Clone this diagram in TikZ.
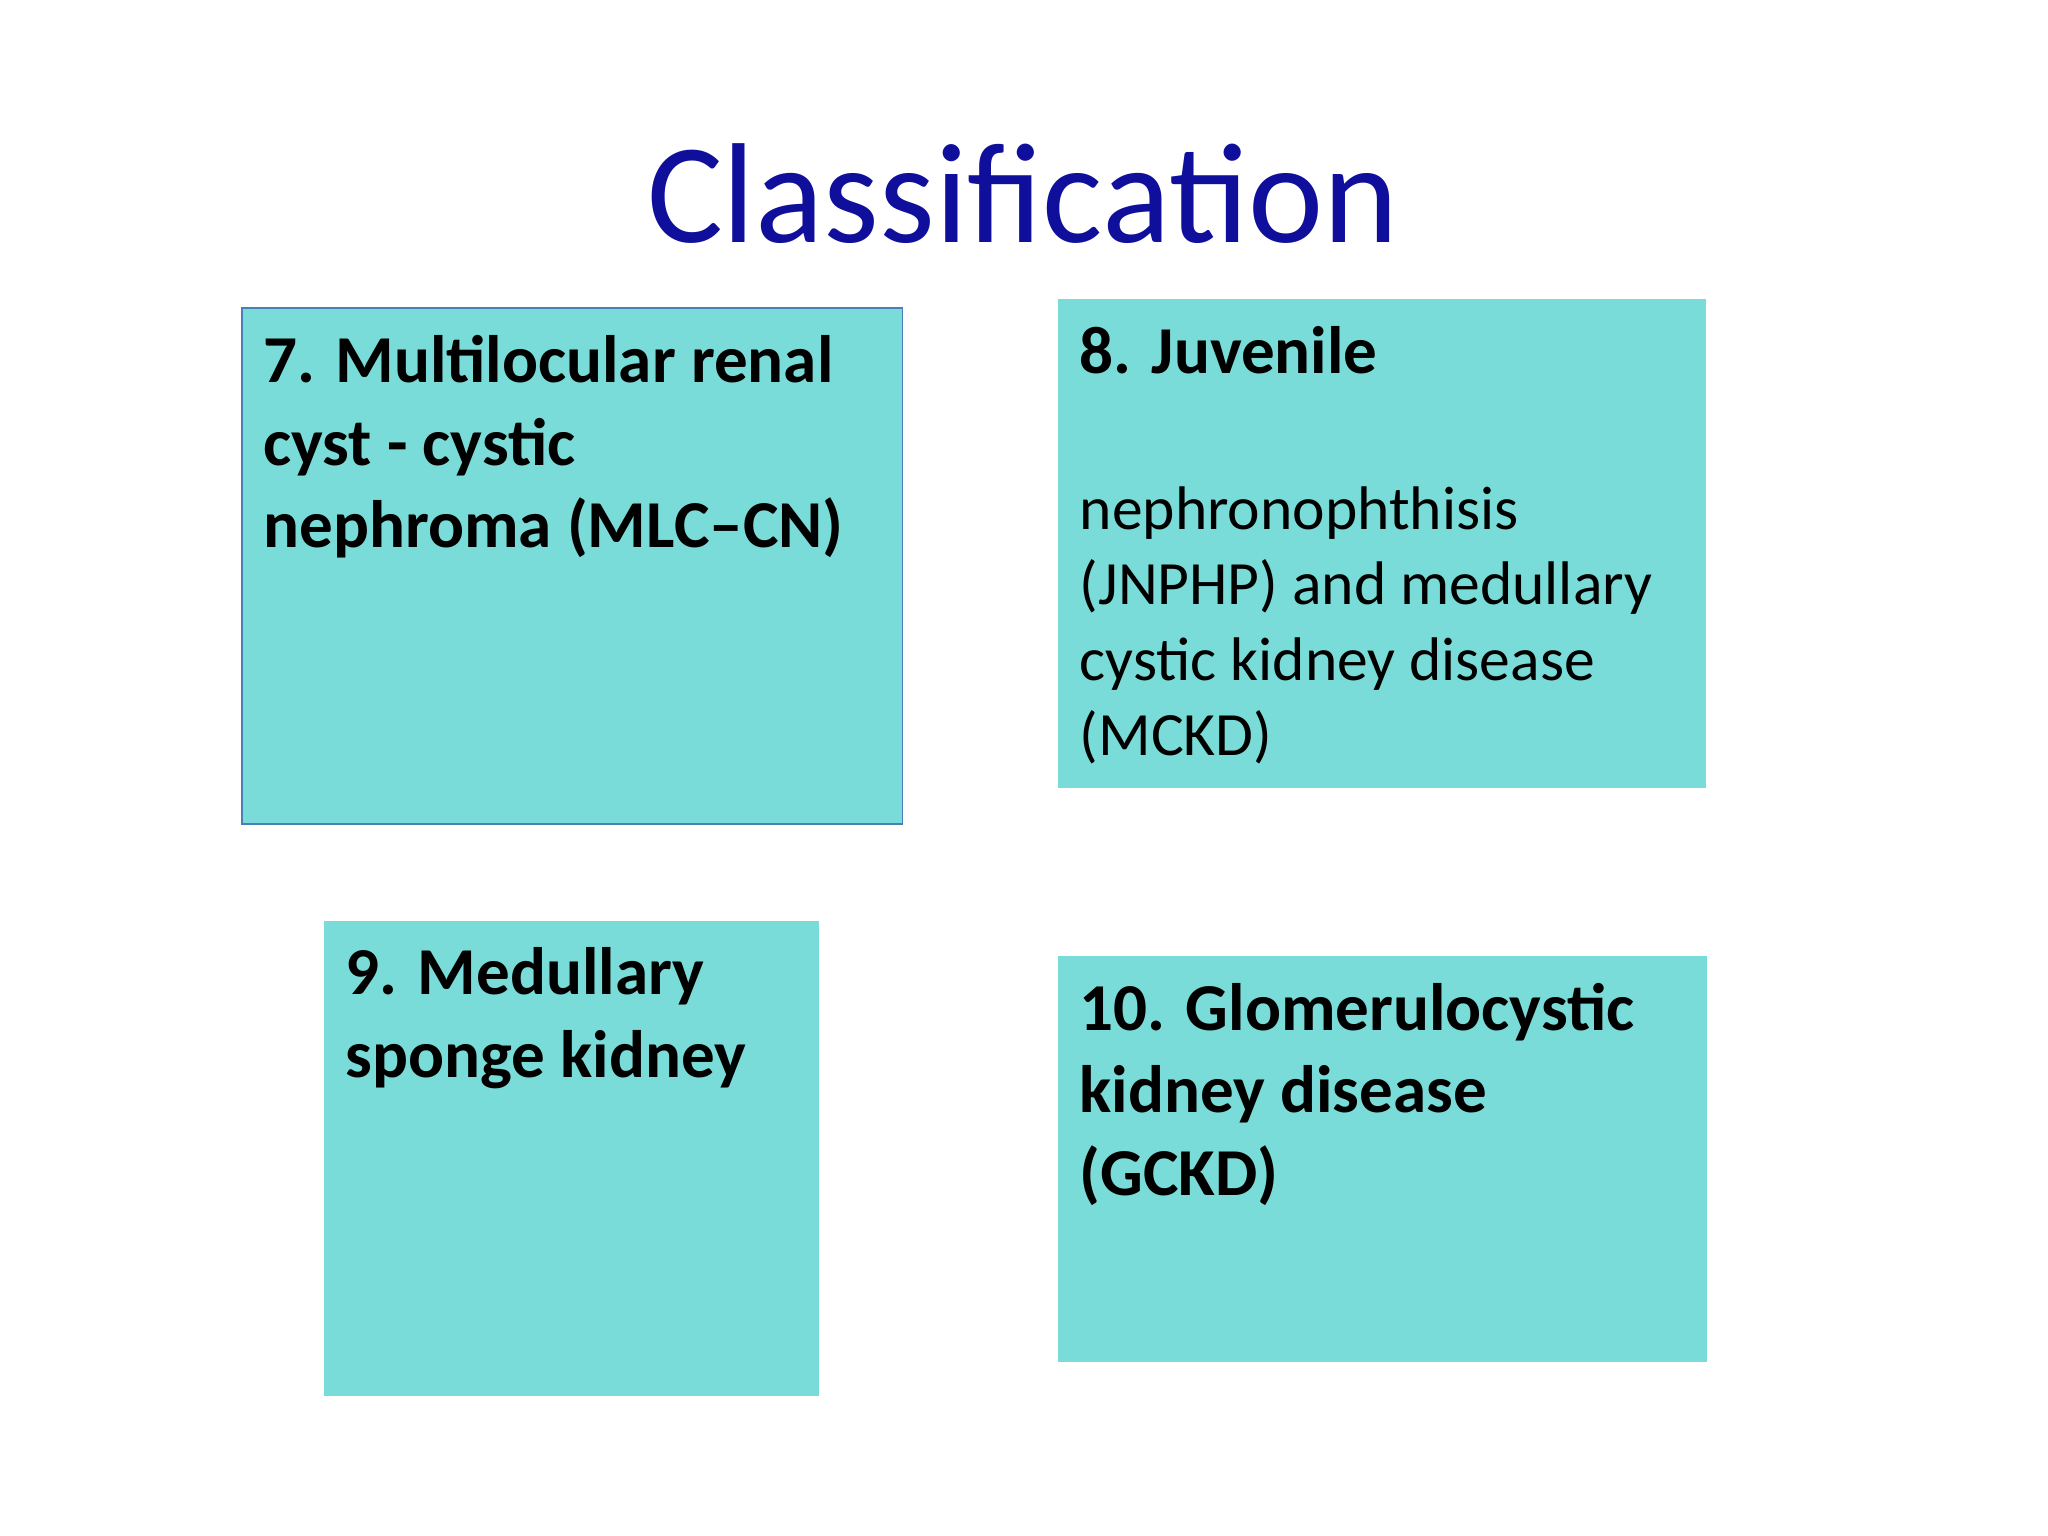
\documentclass[tikz,border=0pt]{standalone}
\usepackage{fontspec}
\setmainfont{Carlito}
\definecolor{boxc}{HTML}{7ADCD8}
\definecolor{titlec}{HTML}{0F0F9C}
\definecolor{edgec}{HTML}{4A7FB5}
\begin{document}
\begin{tikzpicture}[x=0.01cm,y=-0.01cm,
  card/.style={fill=boxc,draw=none},
  bt/.style={anchor=north west,align=left,inner sep=0pt,font=\bfseries\fontsize{14.6}{18}\selectfont},
  rt/.style={anchor=north west,align=left,inner sep=0pt,font=\fontsize{13.4}{16.4}\selectfont}]
\fill[white] (0,0) rectangle (1568,1176);
\node[font=\fontsize{31}{36}\selectfont,text=titlec] (title) at (783,148) {Classification};
\draw[card,draw=edgec,line width=0.4pt] (185,236) rectangle (691,631);
\fill[boxc] (810,229) rectangle (1306,603);
\fill[boxc] (248,705) rectangle (627,1069);
\fill[boxc] (810,732) rectangle (1307,1043);
\node[bt] (t7) at (201,256) {7. Multilocular renal\\cyst - cystic\\nephroma (MLC–CN)};
\node[bt] (t8) at (826,249) {8. Juvenile};
\node[rt] (t8b) at (826,372) {nephronophthisis\\(JNPHP) and medullary\\cystic kidney disease\\(MCKD)};
\node[bt] (t9) at (264,725) {9. Medullary\\sponge kidney};
\node[bt] (t10) at (826,752) {10. Glomerulocystic\\kidney disease\\(GCKD)};
\end{tikzpicture}
\end{document}
